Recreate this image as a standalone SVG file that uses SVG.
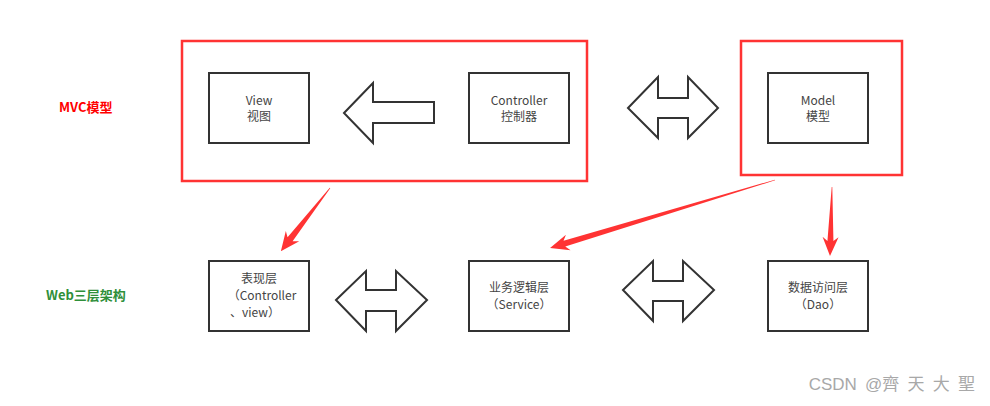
<svg xmlns="http://www.w3.org/2000/svg" width="990" height="406" viewBox="0 0 990 406">
<style>
.box{fill:#fff;stroke:#333;stroke-width:2}
.frame{fill:none;stroke:#ff3333;stroke-width:2.5}
.hollow{fill:#fff;stroke:#333;stroke-width:2;stroke-linejoin:miter}
.red{fill:#ff3333}
.t{font-family:"Noto Sans CJK SC","Liberation Sans",sans-serif;font-size:12px;fill:#444;text-anchor:middle}
.lbl{font-family:"Noto Sans CJK SC","Liberation Sans",sans-serif;font-size:13px;font-weight:bold}
.wm{font-family:"Liberation Sans","Noto Sans CJK TC",sans-serif;font-size:17px;fill:#a8a8a8;text-anchor:end;word-spacing:3.5px}
</style>
<rect width="990" height="406" fill="#fff"/>
<g id="label-mvc"><text class="lbl" x="59" y="112" fill="#ff0000">MVC模型</text></g>
<g id="label-web"><text class="lbl" x="46" y="300" fill="#2f8f3a">Web三层架构</text></g>
<g id="mvc-frame"><rect class="frame" x="182" y="41" width="405" height="140"/></g>
<g id="model-frame"><rect class="frame" x="741" y="41" width="161" height="134"/></g>
<g id="view">
<rect class="box" x="209" y="73" width="100" height="70"/>
<text class="t" x="259" y="105">View</text>
<text class="t" x="259" y="121">视图</text>
</g>
<g id="controller">
<rect class="box" x="469" y="73" width="100" height="70"/>
<text class="t" x="519" y="105">Controller</text>
<text class="t" x="519" y="121">控制器</text>
</g>
<g id="model">
<rect class="box" x="768" y="73" width="100" height="70"/>
<text class="t" x="818" y="105">Model</text>
<text class="t" x="818" y="121">模型</text>
</g>
<g id="presentation">
<rect class="box" x="209" y="261" width="100" height="70"/>
<text class="t" x="259" y="283">表现层</text>
<text class="t" x="262" y="300">（Controller</text>
<text class="t" x="255" y="317">、view）</text>
</g>
<g id="service">
<rect class="box" x="469" y="261" width="100" height="70"/>
<text class="t" x="519" y="292">业务逻辑层</text>
<text class="t" x="519" y="309">（Service）</text>
</g>
<g id="dao">
<rect class="box" x="768" y="261" width="100" height="70"/>
<text class="t" x="818" y="292">数据访问层</text>
<text class="t" x="818" y="309">（Dao）</text>
</g>
<g id="connectors">
<polygon class="hollow" points="344,113 373,83 373,102 434,102 434,123 373,123 373,143"/>
<polygon class="hollow" points="628,108 658,77 658,98 688,98 688,77 718,108 688,138 688,118 658,118 658,138"/>
<polygon class="hollow" points="336,300 366,271 366,290 396,290 396,271 427,300 396,331 396,311 366,311 366,331"/>
<polygon class="hollow" points="623,290 653,261 653,281 683,281 683,261 714,290 683,321 683,301 653,301 653,321"/>
<polygon class="red" transform="translate(330,188) rotate(127.9)" points="0,-0.3 65,-3.2 61,-8.5 80,0 61,8.5 65,3.2 0,0.3"/>
<polygon class="red" transform="translate(775,180) rotate(163.18)" points="0,-0.3 220,-3 216,-8 235,0 216,8 220,3 0,0.3"/>
<polygon class="red" transform="translate(832,187) rotate(91.66)" points="0,-0.3 54,-3 50,-8 69,0 50,8 54,3 0,0.3"/>
</g>
<text class="wm" x="975" y="390">CSDN @齊 天 大 聖</text>
</svg>
